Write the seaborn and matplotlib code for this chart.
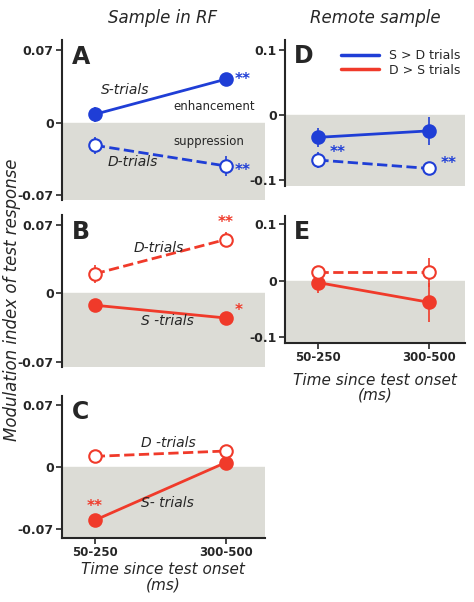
import numpy as np
import pandas as pd
import matplotlib.pyplot as plt
import seaborn as sns
from matplotlib.lines import Line2D

sns.set_style("white")
plt.rcParams['font.family'] = ['DejaVu Sans']

times = [0, 1]
tick_labels = ["50-250", "300-500"]
blue = "#1f3ed6"
red = "#f03a2a"

# each panel: solid filled series, dashed open series, and their error sizes
A_solid = [0.008, 0.042]; A_dash = [-0.022, -0.042]
A_serr = [0.007, 0.006]; A_derr = [0.008, 0.010]
B_solid = [-0.012, -0.025]; B_dash = [0.020, 0.055]
B_serr = [0.006, 0.006]; B_derr = [0.009, 0.008]
C_solid = [-0.060, 0.005]; C_dash = [0.012, 0.018]
C_serr = [0.006, 0.006]; C_derr = [0.006, 0.006]
D_solid = [-0.035, -0.025]; D_dash = [-0.070, -0.083]
D_serr = [0.015, 0.022]; D_derr = [0.012, 0.010]
E_solid = [-0.003, -0.038]; E_dash = [0.015, 0.015]
E_serr = [0.018, 0.035]; E_derr = [0.012, 0.025]

W, H = 474, 602
fig = plt.figure(figsize=(W / 100, H / 100), dpi=100)


def mkax(x0, x1, y0, y1):
    return fig.add_axes([x0 / W, 1 - y1 / H, (x1 - x0) / W, (y1 - y0) / H])


def draw(ax, solid, dash, serr, derr, color, ylim, yt, xlim, label, bottom):
    ax.axhspan(ylim[0], 0, color="#dcdcd6", zorder=0)
    for vals, err, ls, fill in [(solid, serr, "-", color), (dash, derr, "--", "white")]:
        df = pd.DataFrame({"t": times, "v": vals})
        sns.lineplot(data=df, x="t", y="v", ax=ax, color=color, lw=2, linestyle=ls,
                     marker="o", markersize=9, markerfacecolor=fill,
                     markeredgecolor=color, markeredgewidth=1.5, zorder=3)
        ax.errorbar(times, vals, yerr=err, fmt="none", ecolor=color, elinewidth=1.2, zorder=2)
    ax.set_xlim(*xlim)
    ax.set_ylim(*ylim)
    ax.set_yticks(yt)
    ax.set_yticklabels([("%g" % v) if v != 0 else "0" for v in yt],
                       fontsize=9, fontweight="bold")
    ax.tick_params(axis="y", left=True, length=4, width=1.2, pad=2)
    ax.set_xlabel("")
    ax.set_ylabel("")
    for s in ["top", "right"]:
        ax.spines[s].set_visible(False)
    ax.spines["left"].set_linewidth(1.5)
    if bottom:
        ax.set_xticks(times)
        ax.set_xticklabels(tick_labels, fontsize=8.5, fontweight="bold")
        ax.tick_params(axis="x", bottom=True, length=4, width=1.2, pad=2)
        ax.spines["bottom"].set_linewidth(1.5)
    else:
        ax.set_xticks([])
        ax.spines["bottom"].set_visible(False)
    ax.text(0.05, 0.97, label, transform=ax.transAxes, fontsize=17,
            fontweight="bold", va="top")


lx = (-0.25, 1.3)
rx = (-0.3, 1.32)
axA = mkax(62, 265, 40, 200)
draw(axA, A_solid, A_dash, A_serr, A_derr, blue, (-0.075, 0.08), [-0.07, 0, 0.07], lx, "A", False)
axB = mkax(62, 265, 215, 367)
draw(axB, B_solid, B_dash, B_serr, B_derr, red, (-0.075, 0.08), [-0.07, 0, 0.07], lx, "B", False)
axC = mkax(62, 265, 396, 538)
draw(axC, C_solid, C_dash, C_serr, C_derr, red, (-0.08, 0.08), [-0.07, 0, 0.07], lx, "C", True)
axD = mkax(285, 465, 40, 186)
draw(axD, D_solid, D_dash, D_serr, D_derr, blue, (-0.11, 0.115), [-0.1, 0, 0.1], rx, "D", False)
axE = mkax(285, 465, 216, 343)
draw(axE, E_solid, E_dash, E_serr, E_derr, red, (-0.11, 0.115), [-0.1, 0, 0.1], rx, "E", True)

it = dict(fontstyle="italic", fontsize=10)
axA.text(0.05, 0.028, "S-trials", **it)
axA.text(0.1, -0.042, "D-trials", **it)
axA.text(0.6, 0.012, "enhancement", fontsize=8.5)
axA.text(0.6, -0.012, "suppression", fontsize=8.5, va="top")
axA.text(1.07, 0.042, "**", color=blue, fontsize=11, fontweight="bold", va="center")
axA.text(1.07, -0.046, "**", color=blue, fontsize=11, fontweight="bold", va="center")
axB.text(0.3, 0.042, "D-trials", **it)
axB.text(0.35, -0.032, "S -trials", **it)
axB.text(1.0, 0.068, "**", color=red, fontsize=11, fontweight="bold", ha="center")
axB.text(1.07, -0.022, "*", color=red, fontsize=11, fontweight="bold")
axC.text(0.35, 0.022, "D -trials", **it)
axC.text(0.35, -0.045, "S- trials", **it)
axC.text(0.0, -0.05, "**", color=red, fontsize=11, fontweight="bold", ha="center")
axD.text(0.1, -0.066, "**", color=blue, fontsize=11, fontweight="bold")
axD.text(1.1, -0.082, "**", color=blue, fontsize=11, fontweight="bold")

axD.legend(handles=[Line2D([], [], color=blue, lw=2.5), Line2D([], [], color=red, lw=2.5)],
           labels=["S > D trials", "D > S trials"], loc="upper right", frameon=False,
           fontsize=9, handlelength=3, borderaxespad=0.0, labelspacing=0.1,
           bbox_to_anchor=(1.0, 0.97))

tt = dict(fontstyle="italic", fontsize=12)
fig.text(163 / W, 1 - 18 / H, "Sample in RF", ha="center", va="center", **tt)
fig.text(375 / W, 1 - 18 / H, "Remote sample", ha="center", va="center", **tt)
fig.text(12 / W, 1 - 300 / H, "Modulation index of test response", rotation=90,
         ha="center", va="center", **tt)
fig.text(163 / W, 1 - 577 / H, "Time since test onset\n(ms)", ha="center", va="center",
         fontstyle="italic", fontsize=11, linespacing=1.0)
fig.text(375 / W, 1 - 388 / H, "Time since test onset\n(ms)", ha="center", va="center",
         fontstyle="italic", fontsize=11, linespacing=1.0)

fig.savefig("out.png", dpi=100)
